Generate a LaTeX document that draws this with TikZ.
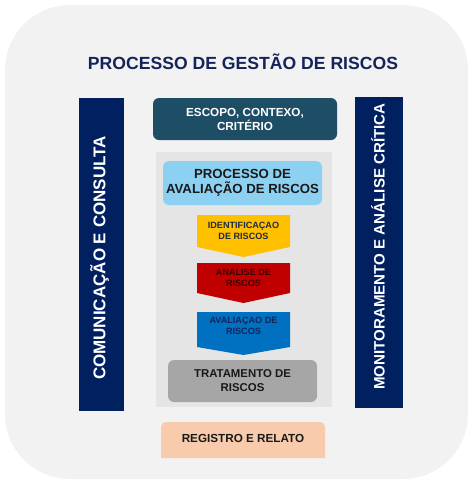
\documentclass[tikz,border=0pt]{standalone}
\usepackage{fontspec}
\setmainfont{Liberation Sans}
\definecolor{outerbg}{HTML}{F2F2F2}
\definecolor{panelgray}{HTML}{E5E5E5}
\definecolor{navybar}{HTML}{002060}
\definecolor{titlecol}{HTML}{14245A}
\definecolor{tealbox}{HTML}{1E4D66}
\definecolor{lightblue}{HTML}{8DD1F2}
\definecolor{chevyellow}{HTML}{FFC000}
\definecolor{chevred}{HTML}{C00000}
\definecolor{chevblue}{HTML}{0070C0}
\definecolor{treatgray}{HTML}{A6A6A6}
\definecolor{peach}{HTML}{F8CBAD}
\definecolor{txtyellow}{HTML}{1F2A44}
\definecolor{txtred}{HTML}{3C0000}
\definecolor{txtblue}{HTML}{14245A}
\begin{document}
\begin{tikzpicture}[x=1pt,y=-1pt,
  lbl/.style={align=center, inner sep=0pt},
  sidebar/.style={fill=navybar, inner sep=0pt},
  sidetext/.style={rotate=90, text=white, inner sep=0pt},
  boxr/.style={rounded corners=6pt, inner sep=0pt, align=center},
  chevtext/.style={align=center, inner sep=0pt, font=\fontsize{9.1}{11}\selectfont\bfseries}
]
\useasboundingbox (0,0) rectangle (474,485);
\fill[outerbg, rounded corners=65pt] (5,5) rectangle (468,479);

\node[lbl, text=titlecol, font=\fontsize{17.6}{20}\selectfont\bfseries] (title) at (243,62) {PROCESSO DE GESTÃO DE RISCOS};

% side bars
\node[sidebar, minimum width=45pt, minimum height=313pt] (leftbar) at (101.5,254.5) {};
\node[sidetext, font=\fontsize{17}{20}\selectfont\bfseries] (lefttxt) at (99.5,258) {COMUNICAÇÃO E CONSULTA};
\node[sidebar, minimum width=48pt, minimum height=311pt] (rightbar) at (379,252.5) {};
\node[sidetext, font=\fontsize{15.1}{18}\selectfont\bfseries] (righttxt) at (378,246.5) {MONITORAMENTO E ANÁLISE CRÍTICA};

% scope box
\node[boxr, fill=tealbox, text=white, minimum width=184pt, minimum height=42pt,
      font=\fontsize{11.7}{14}\selectfont\bfseries] (escopo) at (245,119) {ESCOPO, CONTEXO,\\CRITÉRIO};

% inner panel
\node[fill=panelgray, minimum width=176pt, minimum height=255pt, inner sep=0pt] (panel) at (244,279.5) {};

% processo de avaliação
\node[boxr, fill=lightblue, text=black!90, minimum width=159pt, minimum height=44pt,
      font=\fontsize{13.2}{15}\selectfont\bfseries] (avaliacao) at (242.5,183) {PROCESSO DE\\AVALIAÇÃO DE RISCOS};

% chevrons
\fill[chevyellow] (197,215) -- (290,215) -- (290,247) -- (243.5,257) -- (197,247) -- cycle;
\node[chevtext, text=txtyellow] (ident) at (243.5,230.5) {IDENTIFICAÇAO\\DE RISCOS};
\fill[chevred] (197,263) -- (290,263) -- (290,293) -- (243.5,303) -- (197,293) -- cycle;
\node[chevtext, text=txtred] (analise) at (243.5,277.5) {ANALISE DE\\RISCOS};
\fill[chevblue] (197,312) -- (290,312) -- (290,347) -- (243.5,355) -- (197,347) -- cycle;
\node[chevtext, text=txtblue] (avalr) at (243.5,325.5) {AVALIAÇAO DE\\RISCOS};

% tratamento
\node[boxr, fill=treatgray, text=black!90, minimum width=149pt, minimum height=42pt,
      font=\fontsize{11.4}{14}\selectfont\bfseries] (tratamento) at (242.5,381) {TRATAMENTO DE\\RISCOS};

% registro
\fill[peach] (161,458) [rounded corners=5pt] -- (161,422) -- (325,422) [sharp corners] -- (325,458) -- cycle;
\node[lbl, text=black!90, font=\fontsize{11.7}{14}\selectfont\bfseries] (registro) at (243,438) {REGISTRO E RELATO};
\end{tikzpicture}
\end{document}
